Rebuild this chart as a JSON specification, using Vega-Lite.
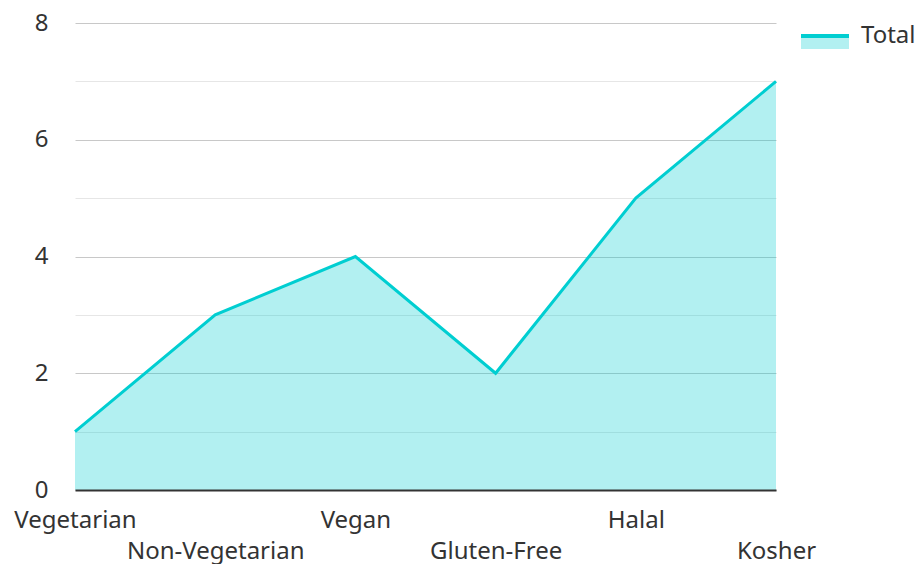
{
  "$schema": "https://vega.github.io/schema/vega-lite/v6.json",
  "width": 701,
  "height": 467,
  "autosize": {"type": "none"},
  "padding": {"left": 75, "top": 23, "right": 141, "bottom": 74},
  "config": {"view": {"stroke": null}, "font": "Noto Sans"},
  "data": {
    "values": [
      {"diet": "Vegetarian", "count": 1},
      {"diet": "Non-Vegetarian", "count": 3},
      {"diet": "Vegan", "count": 4},
      {"diet": "Gluten-Free", "count": 2},
      {"diet": "Halal", "count": 5},
      {"diet": "Kosher", "count": 7}
    ]
  },
  "encoding": {
    "x": {
      "field": "diet",
      "type": "nominal",
      "sort": null,
      "scale": {"type": "point", "padding": 0},
      "axis": {
        "title": null,
        "labelAngle": 0,
        "ticks": false,
        "grid": false,
        "domainColor": "#333333",
        "domainWidth": 2,
        "zindex": 1,
        "labelFontSize": 24,
        "labelColor": "#333333",
        "labelPadding": 18,
        "labelBaseline": "top",
        "labelLineHeight": 31,
        "labelOverlap": false,
        "labelBound": false,
        "labelFlush": false,
        "labelExpr": "indexof(['Non-Vegetarian','Gluten-Free','Kosher'], datum.value) >= 0 ? ['', datum.label] : datum.label"
      }
    },
    "y": {
      "field": "count",
      "type": "quantitative",
      "scale": {"domain": [0, 8], "nice": false},
      "axis": {
        "title": null,
        "values": [0, 1, 2, 3, 4, 5, 6, 7, 8],
        "domain": false,
        "ticks": false,
        "labelFontSize": 24,
        "labelColor": "#333333",
        "labelPadding": 27,
        "labelExpr": "datum.value % 2 ? '' : datum.label",
        "gridColor": {"condition": {"test": "datum.value % 2 === 1", "value": "#e6e6e6"}, "value": "#c8c8c8"},
        "gridWidth": 1
      }
    }
  },
  "layer": [
    {
      "mark": {"type": "area", "fillOpacity": 0.3},
      "encoding": {
        "fill": {
          "datum": "Total",
          "type": "nominal",
          "scale": {"range": ["#00CED1"]},
          "legend": {
            "title": null,
            "orient": "none",
            "legendX": 724,
            "legendY": -13,
            "padding": 0,
            "symbolType": "M-1,0H1V0.54H-1Z",
            "symbolSize": 2304,
            "symbolStrokeColor": "#00CED1",
            "symbolStrokeWidth": 4,
            "symbolDash": [48, 1000],
            "labelFontSize": 24,
            "labelColor": "#333333",
            "labelOffset": 10,
            "encode": {
              "symbols": {
                "update": {
                  "fillOpacity": {"value": 0.3},
                  "stroke": {"value": "#00CED1"},
                  "strokeOpacity": {"value": 1},
                  "opacity": {"value": 1}
                }
              }
            }
          }
        }
      }
    },
    {
      "mark": {"type": "line", "color": "#00CED1", "strokeWidth": 3}
    }
  ]
}
